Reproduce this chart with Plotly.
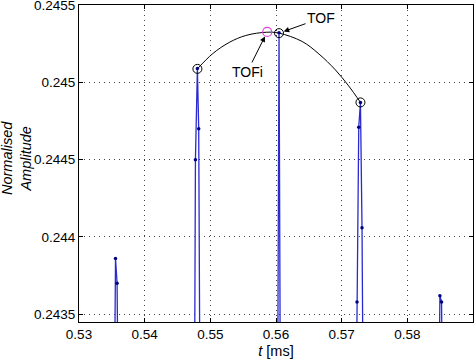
import plotly.graph_objects as go

# ---- data ----
# sampled signal (baseline samples sit below the visible range)
sig_t = [0.53532, 0.53556, 0.53580, 0.53604,
         0.54755, 0.54773, 0.54803, 0.54823, 0.54847,
         0.56021, 0.56046, 0.56070,
         0.57212, 0.57234, 0.57260, 0.57286, 0.57310, 0.57334,
         0.58471, 0.58496, 0.58521, 0.58546]
sig_y = [0.2425, 0.24386, 0.24370, 0.2425,
         0.2425, 0.24450, 0.24509, 0.24470, 0.2425,
         0.2425, 0.24532, 0.2425,
         0.2425, 0.24358, 0.24471, 0.24487, 0.24406, 0.2425,
         0.2425, 0.24362, 0.24358, 0.2425]

# local peak samples (black circles)
peak_t = [0.54803, 0.56046, 0.57286]
peak_y = [0.245087, 0.245318, 0.24487]

# interpolated maximum (TOFi)
tofi_t = [0.55866]
tofi_y = [0.245326]

# points
curve_t = [0.54803, 0.55035, 0.55288, 0.55541, 0.55859, 0.56046,
           0.56399, 0.56652, 0.56905, 0.57106, 0.57286]
curve_y = [0.245087, 0.245185, 0.245258, 0.245303, 0.245324, 0.245318,
           0.245264, 0.245184, 0.245080, 0.244977, 0.24487]

x_ticks = [0.53, 0.54, 0.55, 0.56, 0.57, 0.58]
x_ticklabels = ["0.53", "0.54", "0.55", "0.56", "0.57", "0.58"]
y_ticks = [0.2435, 0.244, 0.2445, 0.245, 0.2455]
y_ticklabels = ["0.2435", "0.244", "0.2445", "0.245", "0.2455"]

FONT = "Liberation Sans, Arial, Helvetica, sans-serif"
W, H = 474, 359
ML, MR, MT, MB = 79, 1, 5, 37

fig = go.Figure()

fig.add_trace(go.Scatter(
    x=curve_t, y=curve_y, mode="lines", line_shape="spline",
    line=dict(color="black", width=1), showlegend=False, hoverinfo="skip"))

fig.add_trace(go.Scatter(
    x=sig_t, y=sig_y, mode="lines+markers",
    line=dict(color="#2a2ad0", width=1.3),
    marker=dict(color="#000080", size=3.5),
    showlegend=False))

fig.add_trace(go.Scatter(
    x=peak_t, y=peak_y, mode="markers",
    marker=dict(symbol="circle-open", color="black", size=9, line=dict(width=1)),
    showlegend=False))

fig.add_trace(go.Scatter(
    x=tofi_t, y=tofi_y, mode="markers",
    marker=dict(symbol="circle-open", color="#e040e0", size=9, line=dict(width=1.2)),
    showlegend=False))

fig.add_annotation(x=tofi_t[0], y=tofi_y[0], xref="x", yref="y",
                   text="TOFi", showarrow=True, arrowhead=2, arrowsize=1.1,
                   arrowwidth=1, arrowcolor="black", standoff=5,
                   ax=-20, ay=40, font=dict(family=FONT, size=14, color="black"))
fig.add_annotation(x=peak_t[1], y=peak_y[1], xref="x", yref="y",
                   text="TOF", showarrow=True, arrowhead=2, arrowsize=1.1,
                   arrowwidth=1, arrowcolor="black", standoff=5,
                   ax=42, ay=-15, font=dict(family=FONT, size=14, color="black"))

# y-axis title as rotated two-line annotation (pixel centre ~ (16, 158))
plot_w = W - ML - MR
plot_h = H - MT - MB
fig.add_annotation(x=(16 - ML) / plot_w, y=(H - MB - 158) / plot_h,
                   xref="paper", yref="paper", xanchor="center", yanchor="middle",
                   text="<i>Normalised<br>Amplitude</i>", showarrow=False,
                   textangle=-90, font=dict(family=FONT, size=14.5, color="black"))

axis_common = dict(
    showline=True, linecolor="black", linewidth=1, mirror="ticks",
    ticks="inside", ticklen=4, tickcolor="black",
    showgrid=True, gridcolor="#444444", gridwidth=1, griddash="1px,4px",
    zeroline=False, tickfont=dict(family=FONT, size=13.5, color="black"),
    ticklabeloverflow="allow",
)

fig.update_xaxes(range=[0.53, 0.59], tickvals=x_ticks, ticktext=x_ticklabels,
                 title=dict(text="<i>t</i> [ms]", font=dict(family=FONT, size=14.5, color="black"),
                            standoff=4),
                 **axis_common)
fig.update_yaxes(range=[0.24345, 0.2455], tickvals=y_ticks, ticktext=y_ticklabels,
                 **axis_common)

fig.update_layout(width=W, height=H,
                  margin=dict(l=ML, r=MR, t=MT, b=MB, autoexpand=False),
                  plot_bgcolor="white", paper_bgcolor="white",
                  font=dict(family=FONT, color="black"))

fig.write_html("out.html", config={"displayModeBar": False},
               post_script="document.body.style.margin='0';document.body.style.padding='0';")
